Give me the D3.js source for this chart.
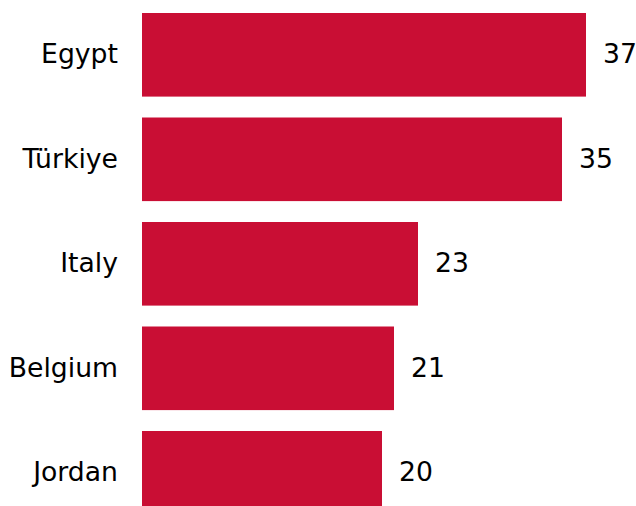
<!DOCTYPE html>
<html>
<head>
<meta charset="utf-8">
<script src="https://cdn.jsdelivr.net/npm/d3@7"></script>
<style>
  html, body { margin: 0; padding: 0; background: #fff; overflow: hidden; }
  svg { display: block; }
</style>
</head>
<body>
<svg id="chart" width="636" height="506"></svg>
<script>
const categories = ["Egypt", "Türkiye", "Italy", "Belgium", "Jordan"];
const values = [37, 35, 23, 21, 20];

const W = 636, H = 506;
const barColor = "#C90E34";
const fontFamily = "'DejaVu Sans', sans-serif";
const fontSize = 26.67;

const svg = d3.select("#chart");

const x = d3.scaleLinear().domain([0, 37]).range([142, 586]);
const y = d3.scaleBand().domain(categories).range([-7.9, 535.5]).paddingInner(0.2).paddingOuter(0.2);

const data = categories.map((c, i) => ({ c, v: values[i] }));

svg.selectAll("rect.bar").data(data).join("rect")
  .attr("class", "bar")
  .attr("x", x(0))
  .attr("y", d => y(d.c))
  .attr("width", d => x(d.v) - x(0))
  .attr("height", y.bandwidth())
  .attr("fill", barColor);

const yAxis = d3.axisLeft(y).tickSize(0).tickPadding(24);
const g = svg.append("g").attr("transform", `translate(${x(0)},0)`).call(yAxis);
g.select(".domain").remove();
g.selectAll("text")
  .attr("font-family", fontFamily)
  .attr("font-size", fontSize)
  .attr("fill", "#000");

svg.selectAll("text.val").data(data).join("text")
  .attr("class", "val")
  .attr("x", d => x(d.v) + 17)
  .attr("y", d => y(d.c) + y.bandwidth() / 2)
  .attr("dy", "0.32em")
  .attr("font-family", fontFamily)
  .attr("font-size", fontSize)
  .attr("fill", "#000")
  .text(d => d.v);
</script>
</body>
</html>
